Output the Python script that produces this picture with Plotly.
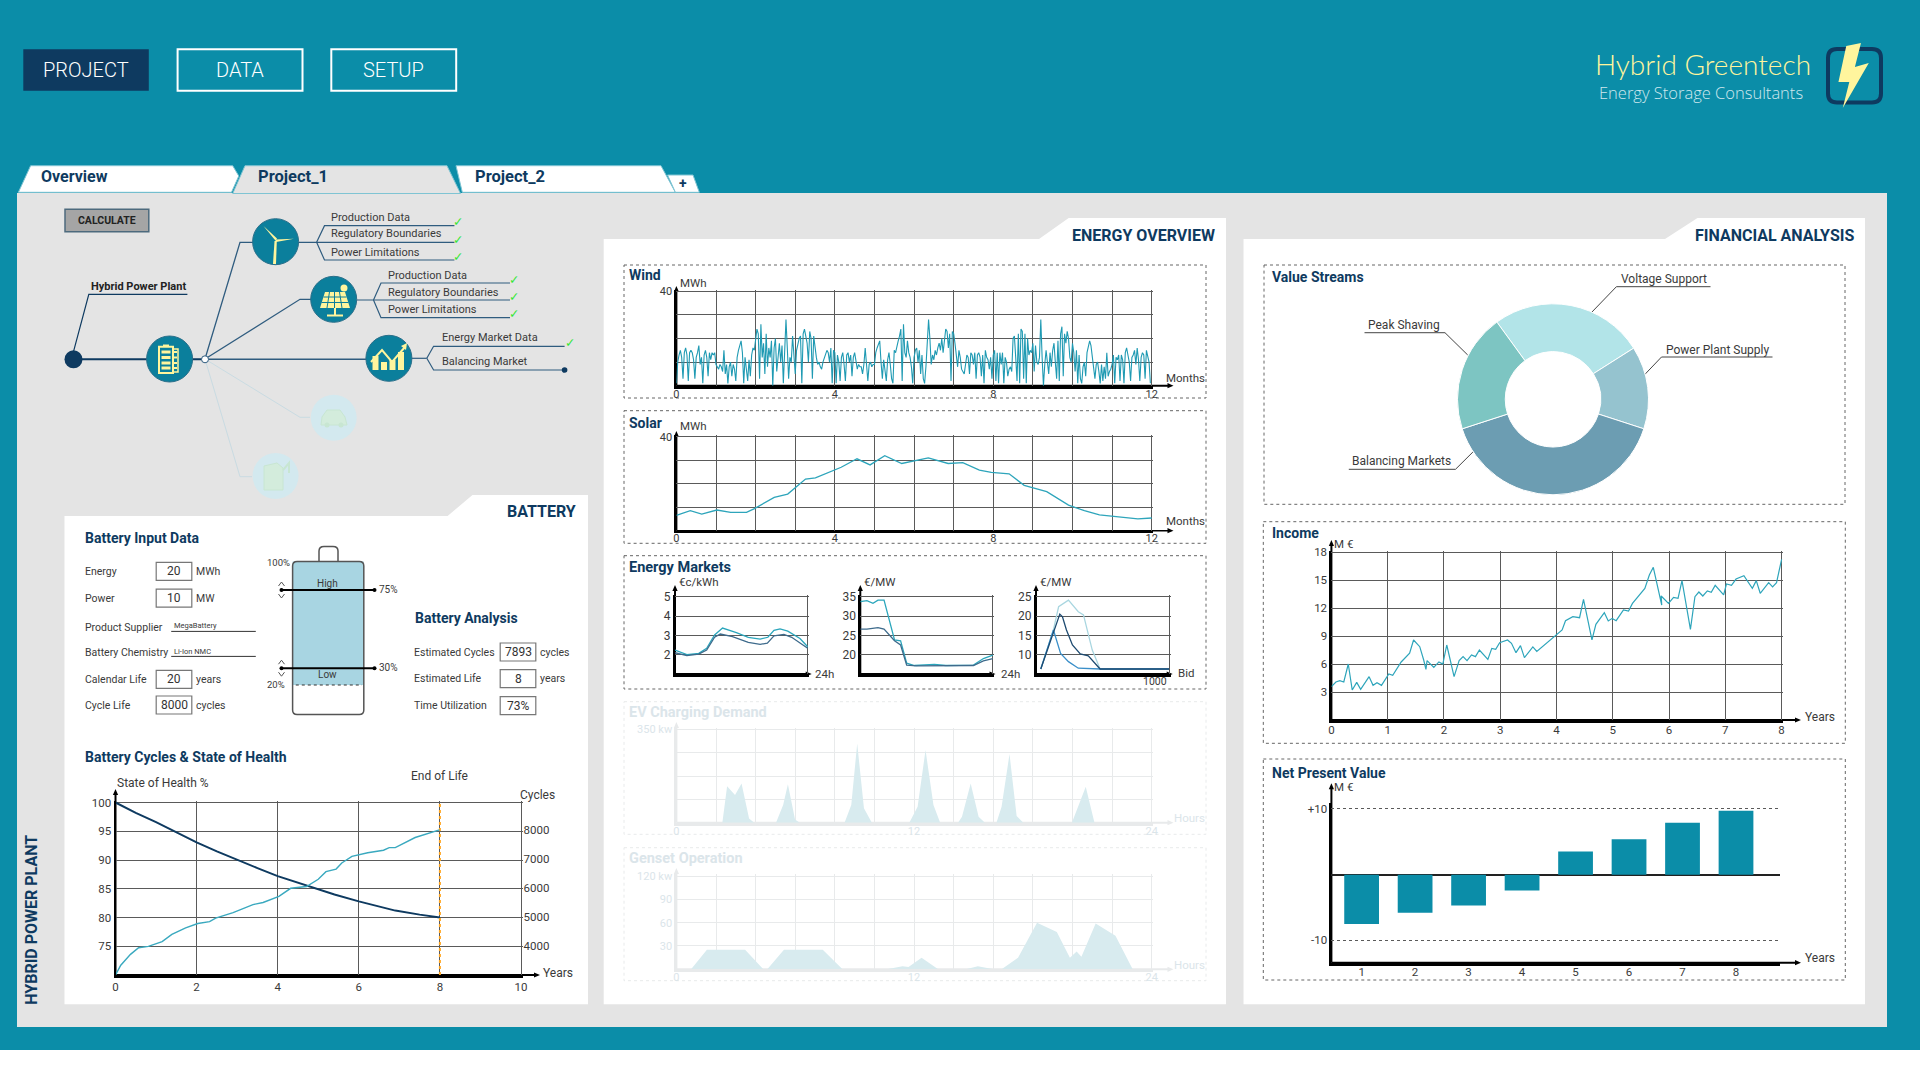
import plotly.graph_objects as go

# ---------------- data ----------------
wind_mwh = [
 1,10,13,15,12,3,14,16,13,2,14,15,14,11,3,12,14,17,9,12,1,13,15,12,4,14,11,14,13,14,
 9,8,7,9,8,6,15,5,9,1,8,10,4,9,7,2,12,15,17,19,14,1,12,8,2,11,4,13,16,15,
 20,24,22,3,26,12,18,5,22,8,16,12,19,0,16,20,6,14,18,10,17,1,14,28,16,3,12,10,21,14,
 5,15,18,20,21,1,22,24,21,18,10,23,20,3,21,16,12,9,10,8,7,10,12,13,15,14,10,16,1,15,
 14,1,13,10,2,12,14,9,2,13,14,10,13,4,12,14,10,7,9,8,8,5,9,16,9,2,9,10,8,9,
 9,14,16,18,19,10,3,11,5,2,11,14,9,3,1,15,14,17,19,21,24,2,26,14,12,19,14,12,8,1,
 12,15,16,10,15,5,13,3,1,8,17,28,20,9,13,11,15,13,16,18,15,20,14,20,24,23,16,22,2,23,
 22,18,14,8,15,12,7,6,5,9,13,12,5,14,13,9,14,3,13,14,12,4,13,1,15,12,11,7,12,3,
 13,15,2,14,1,14,9,14,1,12,10,4,7,8,6,20,21,12,2,22,1,24,23,3,22,1,20,13,15,14,
 18,6,17,10,9,12,28,12,0,9,15,10,5,14,8,15,18,10,3,19,2,22,25,4,22,18,23,20,12,10,
 18,14,6,15,1,13,3,1,8,10,4,14,17,19,17,13,9,3,9,10,6,1,9,2,8,3,14,4,6,7,
 9,13,1,12,11,13,2,13,11,1,14,16,13,10,2,12,13,15,9,16,11,2,12,14,13,3,15,12,10,1]
wind_months = [i / 30 for i in range(len(wind_mwh))]

solar_months = [0,.35,.64,1.02,1.37,1.77,1.97,2.47,2.81,3.26,3.51,4.16,4.56,4.89,5.26,5.69,6.36,6.86,7.23,7.65,7.95,8.4,8.78,9.35,9.9,10.3,10.68,11.05,11.65,12]
solar_mwh = [6.5,8.5,7.1,8.8,7.8,7.8,9.4,14.2,15.6,22,22.5,27,30.6,28,31.9,28.6,31,28.6,29,25.8,24.8,24.2,19.3,16.6,10.9,8.5,6.7,6.1,5,5.4]

m1_h_a = [0,2.15,4.3,5.73,7.16,8.6,11.1,13.25,15.4,16.8,17.9,19,20.4,22.6,24]
m1_a = [2.24,2.0,2.07,2.33,3.02,3.38,3.14,2.9,2.81,2.9,3.26,3.33,3.22,2.84,2.41]
m1_h_b = [0,2.15,4.3,5.73,7.16,8.2,10.4,13.25,15.4,16.7,17.9,19.7,21.1,24]
m1_b = [2.1,1.95,2.03,2.24,2.9,3.07,2.93,2.64,2.53,2.6,2.97,3.05,2.9,2.33]

m2_h_a = [0,1.2,2.3,3.2,4.3,5.2,6.2,7.3,8.4,9.8,13.4,15.5,20.5,22.3,24]
m2_a = [33.7,34,33.3,34.1,34.1,29.4,23.8,23.6,17.8,17.2,17.5,17.2,17.3,19,19.9]
m2_h_b = [0,1.2,3.2,4.3,6.2,7.3,8.4,10.2,20.5,22.3,24]
m2_b = [26.6,26.6,27,26.6,23.6,22.5,17.3,17.1,17.2,18.4,19]

m3_bid_light = [36,131,170,244,318,357,423,482,1000]
m3_light = [6.3,16.4,22.4,24.1,21.1,20.3,11.2,6.3,6.3]
m3_bid_dark = [36,179,199,229,274,333,393,482,1000]
m3_dark = [6.3,20.5,19.8,16.4,12.5,10.2,9.7,6.3,6.3]
m3_bid_blue = [36,131,185,244,318,482,1000]
m3_blue = [6.3,16.4,10.3,8.2,6.5,6.3,6.3]

ev_hours = [0,2.32,2.56,2.96,3.29,3.67,3.93,5.03,5.39,5.63,5.99,6.23,8.49,8.83,9.13,9.47,9.87,11.76,12.18,12.58,12.98,13.32,14.22,14.42,14.86,15.26,15.58,16.16,16.42,16.82,17.18,17.52,19.97,20.67,21.11,24]
ev_kw = [0,0,137,104,147,16,0,0,66,144,12,0,0,66,297,54,0,0,60,272,66,0,0,22,147,22,0,0,60,257,25,0,0,135,0,0]

gen_hours = [0,.74,1.54,3.47,4.39,4.59,5.43,7.39,8.39,10.62,11.42,11.72,12.38,13.22,14.62,15.22,16.02,16.42,17.25,18.21,19.21,19.87,20.21,20.45,21.17,22.17,23.04,24]
gen_kw = [0,0,25,25,0,0,25,25,0,0,4,3,15,0,0,4,0,0,15,60,48,15,23,16,59,43,0,0]

cycle_years = [0,.13,.37,.57,.81,1.15,1.39,1.73,2.03,2.32,2.47,2.9,3.39,3.64,4.03,4.32,4.71,5,5.19,5.44,5.58,5.83,6.22,6.61,6.75,6.9,7.39,7.63,7.99]
cycles = [3000,3338,3712,3938,3988,4150,4400,4625,4775,4838,4962,5150,5425,5500,5712,5988,6050,6300,6562,6650,6862,7088,7212,7300,7388,7388,7738,7838,8000]
soh_years = [0,.5,1,1.35,2,2.5,3,3.5,4,4.76,5.4,6,6.9,7.5,8]
soh = [100,98.2,96.6,95.4,93.06,91.5,90,88.6,87.2,85.4,84,82.8,81.2,80.5,80]

income_years = [0,.08,.15,.22,.3,.37,.45,.52,.67,.74,.81,.89,1.02,1.09,1.24,1.39,1.46,1.57,1.64,1.68,1.7,1.82,1.91,1.98,2.05,2.18,2.27,2.34,2.41,2.49,2.56,2.63,2.78,2.85,2.92,2.99,3.13,3.2,3.28,3.36,3.43,3.58,3.65,3.96,4.1,4.16,4.29,4.41,4.48,4.63,4.7,4.85,4.92,4.99,5.06,5.19,5.28,5.35,5.57,5.65,5.72,5.87,5.86,5.99,6.08,6.16,6.23,6.38,6.46,6.53,6.6,6.68,6.75,6.82,6.97,7.02,7.11,7.19,7.33,7.48,7.55,7.62,7.77,7.84,7.91,8]
income_m = [3.58,4.08,4.22,4.08,6.01,3.22,4.04,3.29,4.65,3.72,4.01,3.72,4.94,4.79,6.23,7.16,8.59,7.87,6.44,5.44,6.37,5.65,6.23,6.01,8.05,4.65,6.37,6.8,6.37,6.98,6.8,7.51,6.51,7.69,7.58,8.3,8.59,8.23,7.23,7.98,6.69,7.84,7.37,9.02,9.66,10.66,11.09,10.98,12.95,8.59,10.27,11.52,10.63,10.91,10.66,11.81,11.7,12.52,14.13,15.56,16.39,12.34,13.31,12.52,13.17,13.06,14.96,9.73,13.24,13.74,13.31,13.85,13.7,14.45,13.42,14.6,14.45,15.13,15.49,14.13,14.96,13.6,14.74,14.28,14.74,17.25]

npv_years = [1,2,3,4,5,6,7,8]
npv_m = [-7.5,-5.8,-4.7,-2.4,3.5,5.4,7.9,9.7]

stream_labels = ["Voltage Support","Power Plant Supply","Balancing Markets","Peak Shaving"]
stream_values = [26,14,40,20]
stream_colors = ["#b2e4e8","#95c3cf","#6c9db2","#7dc5c2"]

# ---------------- style ----------------
TEAL = "#0b8da8"; NAVY = "#0e3a60"; GRAY = "#e4e4e4"; YEL = "#fff59d"
LINE = "#2ea5bb"; TXT = "#3a3a3a"; FONT = "Roboto"
FADE_T = "#dbe5ea"; FADE_G = "#e8eaeb"; FADE_F = "#d8ebef"
W, H = 1920, 1080
X = lambda p: p / W
Y = lambda p: 1 - p / H
S, A = [], []

def rect(x0, y0, x1, y1, fill="rgba(0,0,0,0)", line=None, lw=1, dash=None):
    S.append(dict(type="rect", xref="paper", yref="paper", x0=X(x0), x1=X(x1), y0=Y(y0), y1=Y(y1),
                  fillcolor=fill, line=dict(color=line or "rgba(0,0,0,0)", width=lw if line else 0, dash=dash),
                  layer="below"))

def poly(pts, fill="rgba(0,0,0,0)", line=None, lw=1, close=True, dash=None):
    d = "M" + " L".join(f"{X(a):.5f},{Y(b):.5f}" for a, b in pts) + (" Z" if close else "")
    S.append(dict(type="path", xref="paper", yref="paper", path=d, fillcolor=fill,
                  line=dict(color=line or "rgba(0,0,0,0)", width=lw if line else 0, dash=dash), layer="below"))

def seg(pts, color=NAVY, lw=1, dash=None):
    poly(pts, line=color, lw=lw, close=False, dash=dash)

def circ(cx, cy, r, fill, line=None, lw=1):
    S.append(dict(type="circle", xref="paper", yref="paper", x0=X(cx-r), x1=X(cx+r), y0=Y(cy+r), y1=Y(cy-r),
                  fillcolor=fill, line=dict(color=line or "rgba(0,0,0,0)", width=lw if line else 0), layer="below"))

def rrect(x0, y0, x1, y1, r, fill, color, lw):
    S.append(dict(type="path", xref="paper", yref="paper", layer="below", line=dict(color=color, width=lw), fillcolor=fill,
        path=f"M{X(x0)},{Y(y0+r)} Q{X(x0)},{Y(y0)} {X(x0+r)},{Y(y0)} L{X(x1-r)},{Y(y0)} Q{X(x1)},{Y(y0)} {X(x1)},{Y(y0+r)} "
             f"L{X(x1)},{Y(y1-r)} Q{X(x1)},{Y(y1)} {X(x1-r)},{Y(y1)} L{X(x0+r)},{Y(y1)} Q{X(x0)},{Y(y1)} {X(x0)},{Y(y1-r)} Z"))

def T(s, x, y, size=11, color=TXT, bold=False, anchor="left", angle=0, family=FONT, weight=None):
    A.append(dict(text=s, xref="paper", yref="paper", x=X(x), y=Y(y), xanchor=anchor, yanchor="middle",
                  showarrow=False, textangle=angle, borderpad=0,
                  font=dict(family=family, size=size, color=color, weight=weight or (700 if bold else 400))))

def arrow_r(x0, x1, y, c="#000", lw=2):
    seg([(x0, y), (x1-4, y)], c, lw)
    poly([(x1, y), (x1-6, y-2.6), (x1-6, y+2.6)], fill=c)

def arrow_u(x, y0, y1, c="#000", lw=2):
    seg([(x, y0), (x, y1+4)], c, lw)
    poly([(x, y1), (x-2.6, y1+6), (x+2.6, y1+6)], fill=c)

def check(x, y):
    T("\u2713", x, y, 12.5, "#35e635", True, "center", family="DejaVu Sans")

fig = go.Figure()
axn = [0]
PAD = 1.6  # px added past the last tick so its gridline survives plotly's end clipping

def axes(x0, x1, ytop, ybot, xr, yr, xtv, xtt, ytv, ytt, grid="#5a5a5a", tc=TXT, lc="#000000",
         xgrid=True, ygrid=True, griddash="solid", size=11, lwx=2.5, lwy=2, stand=0):
    axn[0] += 1
    n = "" if axn[0] == 1 else str(axn[0])
    xr2 = [xr[0], xr[1] + PAD * (xr[1] - xr[0]) / (x1 - x0)]
    yr2 = [yr[0], yr[1] + PAD * (yr[1] - yr[0]) / (ybot - ytop)]
    fig.layout[f"xaxis{n}"] = dict(domain=[X(x0), X(x1 + PAD)], range=xr2, anchor=f"y{n}", tickmode="array", tickvals=xtv,
        ticktext=xtt, showgrid=xgrid, gridcolor=grid, gridwidth=1.1, zeroline=False, showline=True, linecolor=lc,
        linewidth=lwx, ticks="", tickfont=dict(family=FONT, size=size, color=tc), fixedrange=True, ticklabelstandoff=stand,
        automargin=False)
    fig.layout[f"yaxis{n}"] = dict(domain=[Y(ybot), Y(ytop - PAD)], range=yr2, anchor=f"x{n}", tickmode="array", tickvals=ytv,
        ticktext=ytt, showgrid=ygrid, gridcolor=grid, griddash=griddash, gridwidth=1.1, zeroline=False, showline=True,
        linecolor=lc, linewidth=lwy, ticks="", tickfont=dict(family=FONT, size=size, color=tc), fixedrange=True, automargin=False)
    return f"x{n}", f"y{n}"

def line(xa, ya, xs, ys, color=LINE, w=1.2):
    fig.add_trace(go.Scatter(x=xs, y=ys, xaxis=xa, yaxis=ya, mode="lines", line=dict(color=color, width=w),
                             showlegend=False, hoverinfo="skip"))

def area(xa, ya, xs, ys):
    fig.add_trace(go.Scatter(x=xs, y=ys, xaxis=xa, yaxis=ya, mode="lines", line=dict(color=FADE_F, width=0),
                             fill="tozeroy", fillcolor=FADE_F, showlegend=False, hoverinfo="skip"))

# ---------------- backgrounds ----------------
rect(0, 0, W, 1050, TEAL)
rect(17, 193, 1887, 1027, GRAY)
# top buttons
rect(23.3, 49.3, 148.8, 90.7, NAVY)
rect(177.6, 49.3, 302.5, 90.7, line="#ffffff", lw=2)
rect(331.3, 49.3, 456.2, 90.7, line="#ffffff", lw=2)
T("PROJECT", 86, 70, 20, "#ffffff", anchor="center", weight=300)
T("DATA", 240, 70, 20, "#ffffff", anchor="center", weight=300)
T("SETUP", 393.7, 70, 20, "#ffffff", anchor="center", weight=300)
# logo
T("Hybrid Greentech", 1593.5, 64.3, 28, YEL, family="Lato", weight=300)
T("Energy Storage Consultants", 1598, 92.3, 16.5, "#cfe8ee", family="Open Sans", weight=300)
rrect(1828, 49, 1881, 102.5, 9, "rgba(0,0,0,0)", NAVY, 4)
Zx = lambda z: z / 2.306 + 1240
poly([(Zx(1398), 46), (Zx(1432), 43), (Zx(1418), 67), (Zx(1450), 63), (Zx(1390), 108), (Zx(1405), 82), (Zx(1380), 82)], fill=YEL)
# tabs
poly([(18.4, 192.3), (30.6, 165.7), (232.7, 165.7), (238.8, 176), (231.5, 192.3)], "#ffffff", "#7fc4d3", 1)
poly([(456, 165.7), (661, 165.7), (675.4, 192.3), (462.3, 192.3)], "#ffffff", "#7fc4d3", 1)
poly([(667.5, 175), (693, 175), (699.3, 192.3), (675.4, 192.3)], "#ffffff", "#7fc4d3", 1)
poly([(232.7, 193.5), (245, 165.7), (447, 165.7), (460.5, 193.5)], GRAY, "#7fc4d3", 1)
T("Overview", 39.5, 177, 16, NAVY, True)
T("Project_1", 257, 177, 16.5, NAVY, True)
T("Project_2", 474, 177, 16.5, NAVY, True)
T("+", 682.8, 183, 14, NAVY, True, "center")
# calculate
rect(65, 209.3, 148.8, 231.7, "#a5a5a5", "#4d6a7d", 1.5)
T("CALCULATE", 106.5, 220.5, 10.5, "#222222", True, "center")

# cards
poly([(64.5, 516), (447.6, 516), (472.5, 495), (588, 495), (588, 1004.3), (64.5, 1004.3)], "#ffffff")
poly([(603.7, 239), (1039, 239), (1068.7, 218), (1226, 218), (1226, 1004.3), (603.7, 1004.3)], "#ffffff")
poly([(1243.5, 239), (1665, 239), (1697.5, 218), (1865, 218), (1865, 1004.3), (1243.5, 1004.3)], "#ffffff")
T("BATTERY", 577, 511.4, 16, NAVY, True, "right")
T("ENERGY OVERVIEW", 1216, 235.5, 16, NAVY, True, "right")
T("FINANCIAL ANALYSIS", 1855, 235.7, 16, NAVY, True, "right")
T("HYBRID POWER PLANT", 30.8, 920, 16, NAVY, True, "center", angle=-90)

# ---------------- project tree ----------------
FN = "#c9dbe2"
seg([(205, 359), (300, 417.3), (310, 417.3)], FN, 1)
seg([(205, 359), (240, 476.7), (252, 476.7)], FN, 1)
seg([(73.5, 351.7), (88.8, 294.3), (187.4, 294.3)], NAVY, 1.2)
seg([(73.5, 359.3), (205, 359.3)], NAVY, 2)
seg([(205, 359.3), (388, 359.3)], "#2f5c7f", 1.5)
seg([(205, 359), (240, 242.3), (270, 242.3)], "#2f5c7f", 1.3)
seg([(205, 359), (300, 299.3), (330, 299.3)], "#2f5c7f", 1.3)
seg([(299, 242.3), (454.4, 242.3)], "#2f5c7f", 1.2)
seg([(316.6, 242.3), (324.5, 225.7), (454.4, 225.7)], "#2f5c7f", 1.2)
seg([(316.6, 242.3), (324.5, 260), (454.4, 260)], "#2f5c7f", 1.2)
seg([(357, 300), (510, 300)], "#2f5c7f", 1.2)
seg([(373.5, 300), (381, 283), (510, 283)], "#2f5c7f", 1.2)
seg([(373.5, 300), (381, 317.7), (510, 317.7)], "#2f5c7f", 1.2)
seg([(411.5, 358.3), (426.8, 358.3)], "#2f5c7f", 1.2)
seg([(426.8, 358.3), (433.6, 346.3), (564.6, 346.3)], "#2f5c7f", 1.2)
seg([(426.8, 358.3), (433.6, 370), (564.6, 370)], "#2f5c7f", 1.2)
circ(564.6, 370, 2.8, NAVY)
circ(73.5, 359.3, 9, NAVY)
circ(205, 359.3, 3.5, "#ffffff", "#2f5c7f", 1)
ICON = "#0b7f9c"
for cx, cy in [(169.6, 359), (275.6, 241.7), (333.7, 299.3), (388.9, 358.3)]:
    circ(cx, cy, 23, ICON, "#2a6f8a", 1)
for cx, cy in [(333.7, 417.7), (275.6, 476)]:
    circ(cx, cy, 23, "#d3e9ef")
# wind icon
poly([(275.6, 240.7), (263.5, 226), (277, 238.5)], YEL)
poly([(275.6, 239.5), (294, 238.8), (276, 242)], YEL)
poly([(274.5, 241), (273, 264), (276, 264), (276.8, 241)], YEL)
# battery icon
rect(163, 349, 178, 372, line=YEL, lw=1.5)
rect(159, 346.7, 173, 373, ICON, YEL, 2)
rect(163, 344.5, 169, 346.7, YEL)
for yy in (352, 357.5, 363, 368):
    rect(161.5, yy-1.5, 170.5, yy+1.5, YEL)
    rect(174, yy-1, 177, yy+1, YEL)
# solar icon
poly([(325, 292), (345, 292), (350, 308), (320, 308)], YEL)
for xa, xb in [(329.5, 327), (334.5, 334.5), (339.5, 342)]:
    seg([(xa, 292), (xb, 308)], ICON, 1)
for yy, xa, xb in [(297, 323.5, 346.5), (302.5, 321.5, 348.5)]:
    seg([(xa, yy), (xb, yy)], ICON, 1)
seg([(335, 308), (335, 315)], YEL, 2)
seg([(327, 315.5), (343, 315.5)], YEL, 2)
circ(344, 288, 3.5, YEL)
# market icon
for a, b, top in [(372.5, 378.5, 356), (381, 387, 362), (389.5, 395.5, 360), (398, 404, 352)]:
    rect(a, top, b, 370, YEL)
seg([(371, 362), (382, 350), (392, 362), (405, 347)], YEL, 2)
poly([(407, 343), (406, 350), (401, 346)], YEL)
# faded ev icon
poly([(321, 425), (322, 417), (327, 410), (340, 410), (345, 417), (347, 425)], "#d3ecdc", "#c8e6d2", 1)
circ(327, 425, 2.5, "#c8e6d2"); circ(341, 425, 2.5, "#c8e6d2")
# faded genset icon
poly([(264, 466), (277, 463), (283, 468), (283, 490), (264, 490)], "#d3ecdc", "#c8e6d2", 1)
seg([(283, 470), (289, 463), (289, 473)], "#c8e6d2", 2)

T("Hybrid Power Plant", 138.4, 286.5, 11, "#222222", True, "center")
for lab, xx, yy in [("Production Data", 330, 217), ("Regulatory Boundaries", 330, 233.7), ("Power Limitations", 330, 252.3),
                    ("Production Data", 387, 275), ("Regulatory Boundaries", 387, 292), ("Power Limitations", 387, 310),
                    ("Energy Market Data", 441, 337.3), ("Balancing Market", 441, 361.7)]:
    T(lab, xx, yy, 11)
for xx, yy in [(458, 221.7), (458, 239), (458, 256), (514.4, 279.3), (514.4, 296.3), (514.4, 313.7), (569.5, 342.3)]:
    check(xx, yy)

# ---------------- battery input ----------------
T("Battery Input Data", 84, 538, 14, NAVY, True)
def vbox(x0, x1, y, val):
    rect(x0, y-9, x1, y+9, "#ffffff", "#777777", 1.2)
    T(val, (x0+x1)/2, y, 12, "#333333", anchor="center")
for lab, yy, val, unit in [("Energy", 571.4, "20", "MWh"), ("Power", 598.2, "10", "MW"),
                           ("Calendar Life", 679.3, "20", "years"), ("Cycle Life", 705, "8000", "cycles")]:
    T(lab, 84.2, yy, 10.5)
    vbox(156.2, 191.8, yy, val)
    T(unit, 194.5, yy, 10.5)
T("Product Supplier", 84.2, 627.9, 10.5)
T("Battery Chemistry", 84.2, 652.9, 10.5)
seg([(171.2, 631.4), (255.8, 631.4)], "#333333", 1)
seg([(171.2, 656.4), (255.8, 656.4)], "#333333", 1)
T("MegaBattery", 173, 625.4, 7.5)
T("Li-Ion NMC", 173, 651, 7.5)

S.append(dict(type="path", xref="paper", yref="paper", layer="below", line=dict(color="#555555", width=1.5), fillcolor="#ffffff",
     path=f"M{X(319)},{Y(561.4)} L{X(319)},{Y(551)} Q{X(319)},{Y(546.4)} {X(324)},{Y(546.4)} L{X(333)},{Y(546.4)} Q{X(338)},{Y(546.4)} {X(338)},{Y(551)} L{X(338)},{Y(561.4)}"))
S.append(dict(type="rect", xref="paper", yref="paper", layer="below", x0=X(292.6), x1=X(363.8), y0=Y(685), y1=Y(561.4),
              fillcolor="#a8d5e2", line=dict(width=0)))
rrect(292.6, 561.4, 363.8, 714.6, 4.5, "rgba(0,0,0,0)", "#555555", 1.5)
seg([(295.8, 685), (362, 685)], "#333333", 1, "dot")
for yy in (590, 668.2):
    seg([(281.5, yy), (374.5, yy)], "#000000", 2)
    circ(281.5, yy, 2, "#000000"); circ(374.5, yy, 2, "#000000")
    seg([(278.5, yy-4), (281.5, yy-8), (284.5, yy-4)], "#555555", 1)
    seg([(278.5, yy+4), (281.5, yy+8), (284.5, yy+4)], "#555555", 1)
T("100%", 278, 562, 9.5, anchor="center")
T("20%", 276, 684.6, 9.5, anchor="center")
T("75%", 388.3, 589, 10, anchor="center")
T("30%", 388.3, 667.5, 10, anchor="center")
T("High", 327.8, 583, 10, anchor="center")
T("Low", 327.8, 674.3, 10, anchor="center")

T("Battery Analysis", 413.5, 617.5, 14, NAVY, True)
for lab, yy, val, unit in [("Estimated Cycles", 652, "7893", "cycles"), ("Estimated Life", 678.6, "8", "years"), ("Time Utilization", 705.7, "73%", "")]:
    T(lab, 413.2, yy, 10.5)
    vbox(500.2, 535.8, yy, val)
    if unit:
        T(unit, 538.6, yy, 10.5)

# ---------------- battery chart ----------------
T("Battery Cycles & State of Health", 84, 756.8, 14, NAVY, True)
xa, ya = axes(115.5, 521, 802.5, 975, [0, 10], [70, 100], [0, 2, 4, 6, 8, 10], ["0", "2", "4", "6", "8", "10"],
              [75, 80, 85, 90, 95, 100], ["75", "80", "85", "90", "95", "100"], size=11.5, stand=-1)
axn[0] += 1
ya2n = str(axn[0])
fig.layout[f"yaxis{ya2n}"] = dict(domain=[Y(975), Y(802.5)], range=[3000, 9000], overlaying=ya, side="right", anchor=xa,
    tickmode="array", tickvals=[4000, 5000, 6000, 7000, 8000], showgrid=False, zeroline=False, showline=False, ticks="",
    tickfont=dict(family=FONT, size=11.5, color=TXT), fixedrange=True, automargin=False)
eol_x = [8, 8]; eol_y = [70, 103]
line(xa, "y" + ya2n, cycle_years, cycles, "#3aa9bf", 1.4)
line(xa, ya, soh_years, soh, NAVY, 2)
fig.add_trace(go.Scatter(x=eol_x, y=eol_y, xaxis=xa, yaxis=ya, mode="lines", cliponaxis=False,
                         line=dict(color="#ffa51f", width=2, dash="dot"), showlegend=False, hoverinfo="skip"))
arrow_r(115.5, 540, 975)
arrow_u(115.5, 975, 789)
T("State of Health %", 115.9, 783, 12)
T("End of Life", 439, 775.7, 12, anchor="center")
T("Cycles", 537.8, 795.4, 12, anchor="center")
T("Years", 541.7, 973.2, 12)

# ---------------- energy overview ----------------
for y0, y1, c in [(265, 398, "#666666"), (410.7, 543.3, "#666666"), (555.7, 689, "#666666"), (701.7, 834.3, FADE_G), (847.7, 980.7, FADE_G)]:
    rect(624, y0, 1206, y1, line=c, lw=1, dash="dot")
months = list(range(13))
mt = ["0", "", "", "", "4", "", "", "", "8", "", "", "", "12"]
xa, ya = axes(676.4, 1151.7, 291.3, 385.7, [0, 12], [0, 40], months, mt, [0, 10, 20, 30, 40], ["", "", "", "", "40"], stand=-4)
line(xa, ya, wind_months, wind_mwh, "#1f9ab3", 1.1)
arrow_r(676.4, 1173.5, 385.7)
arrow_u(676.4, 385.7, 286)
T("Wind", 627.5, 275, 14, NAVY, True)
T("MWh", 679, 282.7, 11.5)
T("Months", 1164.8, 378.3, 11.5)

xa, ya = axes(676.4, 1151.7, 436.7, 530.7, [0, 12], [0, 40], months, mt, [0, 10, 20, 30, 40], ["", "", "", "", "40"], lwx=1.5, stand=-4)
line(xa, ya, solar_months, solar_mwh, LINE, 1.3)
arrow_r(676.4, 1173.5, 530.7, lw=1.5)
arrow_u(676.4, 530.7, 431)
T("Solar", 627.5, 422.7, 14, NAVY, True)
T("MWh", 679, 426, 11.5)
T("Months", 1164.8, 521, 11.5)

T("Energy Markets", 627.5, 567.3, 14.5, NAVY, True)
xa, ya = axes(675, 807.7, 596.7, 674, [0, 24], [1, 5], [24], [""], [1, 2, 3, 4, 5], ["", "2", "3", "4", "5"], size=12)
line(xa, ya, m1_h_a, m1_a, "#2ba6bc", 1.3)
line(xa, ya, m1_h_b, m1_b, "#3e6b8c", 1.3)
arrow_r(675, 811.7, 674); arrow_u(675, 674, 585)
T("\u20acc/kWh", 678, 582.3, 11.5)
T("24h", 814.4, 674, 11.5)

xa, ya = axes(860.3, 992.8, 596.7, 674, [0, 24], [15, 35], [24], [""], [15, 20, 25, 30, 35], ["", "20", "25", "30", "35"], size=12)
line(xa, ya, m2_h_a, m2_a, "#2ba6bc", 1.3)
line(xa, ya, m2_h_b, m2_b, "#3e6b8c", 1.3)
arrow_r(860.3, 995.5, 674); arrow_u(860.3, 674, 585)
T("\u20ac/MW", 863, 582.3, 11.5)
T("24h", 999.5, 674, 11.5)

xa, ya = axes(1036, 1169, 596.7, 674, [0, 1000], [5, 25], [1000], [""], [5, 10, 15, 20, 25], ["", "10", "15", "20", "25"], size=12)
line(xa, ya, m3_bid_light, m3_light, "#a9d6e0", 1.3)
line(xa, ya, m3_bid_blue, m3_blue, "#3a8fc9", 1.3)
line(xa, ya, m3_bid_dark, m3_dark, "#1d4a70", 1.3)
arrow_r(1036, 1172.7, 674); arrow_u(1036, 674, 585)
T("\u20ac/MW", 1039, 582.3, 11.5)
T("Bid", 1177.4, 673, 11.5)
T("1000", 1168, 681.7, 10.5, anchor="right")

ht = ["0", "", "", "", "", "", "12", "", "", "", "", "", "24"]
hv = [0, 2, 4, 6, 8, 10, 12, 14, 16, 18, 20, 22, 24]
xa, ya = axes(676.4, 1151.7, 729.3, 822.7, [0, 24], [0, 350], hv, ht, [0, 87.5, 175, 262.5, 350], ["", "", "", "", "350 kw"],
              grid=FADE_G, tc=FADE_T, lc=FADE_G, stand=-4)
area(xa, ya, ev_hours, ev_kw)
arrow_r(676.4, 1173.5, 822.7, FADE_G); arrow_u(676.4, 822.7, 722, FADE_G)
T("EV Charging Demand", 627.5, 712.3, 14.5, FADE_T, True)
T("Hours", 1173, 818, 11.5, FADE_T)

xa, ya = axes(676.4, 1151.7, 876, 969.3, [0, 24], [0, 120], hv, ht, [0, 30, 60, 90, 120], ["", "30", "60", "90", "120 kw"],
              grid=FADE_G, tc=FADE_T, lc=FADE_G, stand=-4)
area(xa, ya, gen_hours, gen_kw)
arrow_r(676.4, 1173.5, 969.3, FADE_G); arrow_u(676.4, 969.3, 868, FADE_G)
T("Genset Operation", 627.5, 858.3, 14.5, FADE_T, True)
T("Hours", 1173, 965, 11.5, FADE_T)

# ---------------- financial ----------------
rect(1264, 265, 1845, 504.3, line="#666666", dash="dot")
rect(1263.3, 521.7, 1845.3, 743.3, line="#666666", dash="dot")
rect(1263.3, 759, 1845.3, 980, line="#666666", dash="dot")
T("Value Streams", 1271, 276.7, 14, NAVY, True)
fig.add_trace(go.Pie(labels=stream_labels, values=stream_values, hole=0.5, sort=False, direction="clockwise", rotation=-36,
                     marker=dict(colors=stream_colors, line=dict(color="#ffffff", width=1)), textinfo="none", showlegend=False,
                     hoverinfo="label+percent",
                     domain=dict(x=[X(1553-95.5), X(1553+95.5)], y=[Y(399.3+95.5), Y(399.3-95.5)])))
for lab, tx, ty, ux0, ux1, uy, lx, ly, side in [
        ("Voltage Support", 1620.3, 279.3, 1616.4, 1710.5, 286.7, 1591.3, 312.7, "l"),
        ("Peak Shaving", 1366.5, 325, 1364.5, 1445, 332.7, 1467.7, 355, "r"),
        ("Power Plant Supply", 1665, 350, 1661.5, 1772.5, 357, 1644.6, 374.7, "l"),
        ("Balancing Markets", 1351, 461.3, 1348.8, 1455.5, 469.3, 1472.9, 452, "r")]:
    T(lab, tx, ty, 12)
    sx = ux0 if side == "l" else ux1
    seg([(ux1 if side == "l" else ux0, uy), (sx, uy), (lx, ly)], "#444444", 1)

xa, ya = axes(1331.4, 1781.6, 552.3, 720, [0, 8], [0, 18], list(range(9)), [str(i) for i in range(9)],
              [3, 6, 9, 12, 15, 18], ["3", "6", "9", "12", "15", "18"], size=11.5, stand=-3)
line(xa, ya, income_years, income_m, LINE, 1.2)
arrow_r(1331.4, 1801, 720); arrow_u(1331.4, 720, 540)
T("Income", 1271, 532.7, 14, NAVY, True)
T("M \u20ac", 1333, 543.7, 11.5)
T("Years", 1804, 716.7, 12)

xa, ya = axes(1331.4, 1778.8, 804.3, 962.7, [0.435, 8.80], [-13.4, 10.7], npv_years, [str(v) for v in npv_years], [-10, 10], ["-10", "+10"],
              xgrid=False, griddash="dot", size=11.5, stand=-3)
fig.layout[ya.replace("y", "yaxis")].update(zeroline=True, zerolinecolor="#222222", zerolinewidth=1.5)
fig.add_trace(go.Bar(x=npv_years, y=npv_m, width=0.65, xaxis=xa, yaxis=ya, marker=dict(color=TEAL, line=dict(width=0)),
                     showlegend=False, hoverinfo="skip"))
arrow_r(1331.4, 1801, 962.7); arrow_u(1331.4, 962.7, 783.3)
T("Net Present Value", 1271, 772.7, 14, NAVY, True)
T("M \u20ac", 1333, 786.7, 11.5)
T("Years", 1804, 958.3, 12)

fig.update_layout(template="none", width=W, height=H, margin=dict(l=0, r=0, t=0, b=0, pad=0), paper_bgcolor="#ffffff", plot_bgcolor="rgba(0,0,0,0)",
                  shapes=S, annotations=A, showlegend=False, font=dict(family=FONT), hovermode=False)
fig.write_html("out.html", config=dict(displayModeBar=False),
               post_script="document.body.style.margin='0';document.documentElement.style.overflow='hidden';")
